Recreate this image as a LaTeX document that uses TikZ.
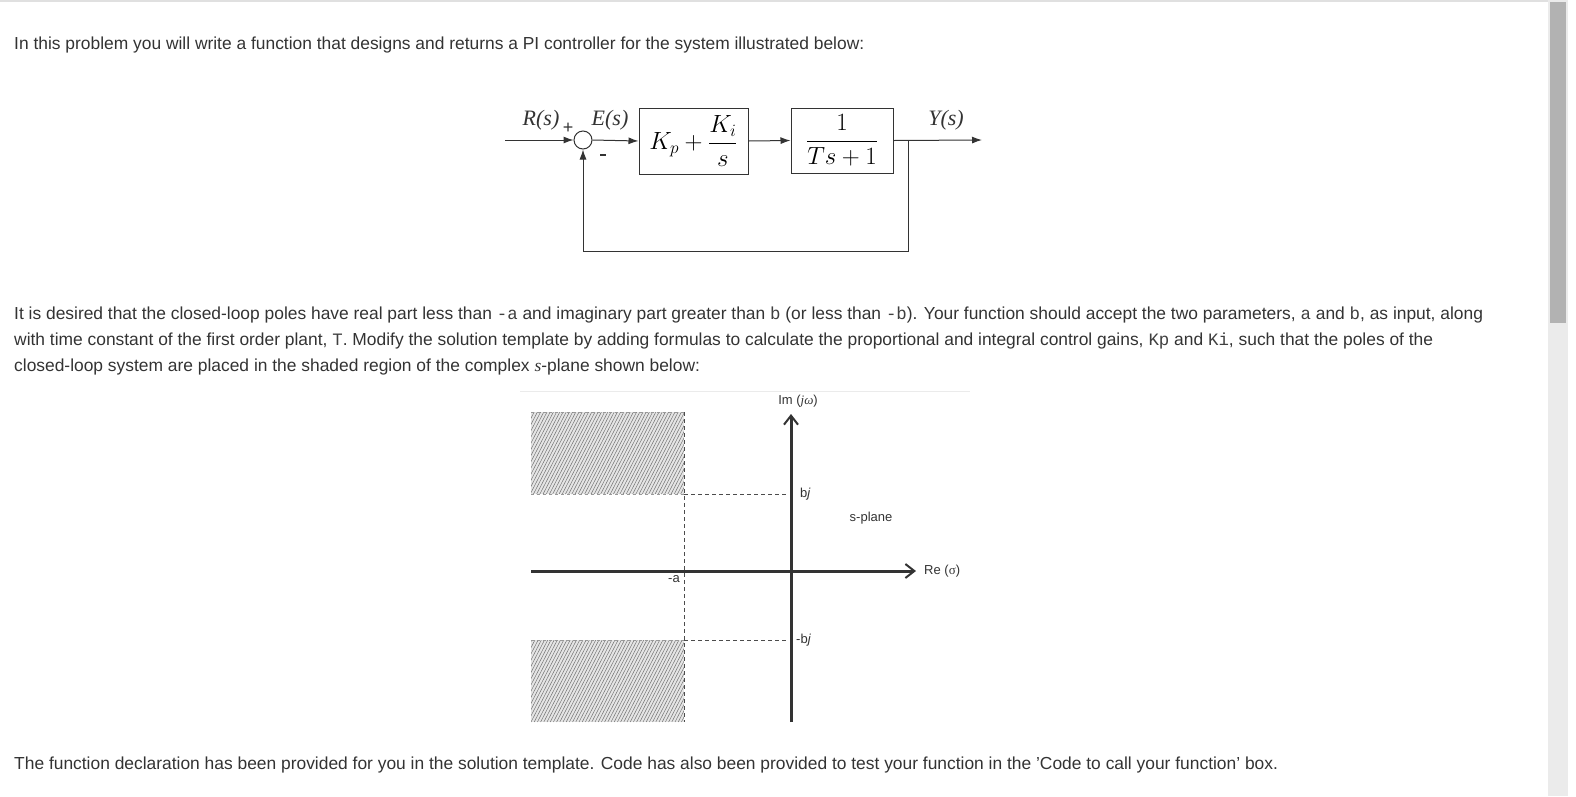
\documentclass[tikz,border=0pt]{standalone}
\usepackage{amsmath}
\usepackage{fontspec}
\setmainfont{Liberation Sans}
\newfontfamily\serifr{Liberation Serif}
\setmonofont{Liberation Mono}
\usetikzlibrary{arrows.meta}
\newcommand{\cd}[1]{{\color{black!75}\texttt{#1}}}
\begin{document}
\begin{tikzpicture}[x=1pt,y=-1pt,
  txt/.style={anchor=west,inner sep=0pt,font=\fontsize{17.4}{20}\selectfont,text=black!80},
  blk/.style={draw=black!80,line width=1pt,minimum width=109pt,minimum height=66pt,inner sep=0pt},
  sig/.style={draw=black!80,line width=1pt,-{Latex[length=10pt,width=7pt]}},
  lab/.style={font=\serifr\itshape\fontsize{22}{24}\selectfont,text=black!80,inner sep=0pt},
  sm/.style={font=\fontsize{13}{15}\selectfont,text=black!80,inner sep=0pt},
  dsh/.style={draw=black!70,line width=0.6pt,dash pattern=on 4pt off 3pt},
  hline/.style={draw=black!55,line width=0.5pt}]
\useasboundingbox (0,0) rectangle (1576,796);
\fill[black!12] (0,0) rectangle (1548,2);
\fill[black!8] (1548,0) rectangle (1568,796);
\fill[black!30] (1550,2) rectangle (1566,323);
% texts
\node[txt] (t1) at (14,45) {In this problem you will write a function that designs and returns a PI controller for the system illustrated below:};
\node[txt] (t2) at (14,315) {It is desired that the closed-loop poles have real part less than \cd{-a} and imaginary part greater than \cd{b} (or less than \cd{-b}). Your function should accept the two parameters, \cd{a} and \cd{b}, as input, along};
\node[txt] (t3) at (14,341) {with time constant of the first order plant, \cd{T}. Modify the solution template by adding formulas to calculate the proportional and integral control gains, \cd{Kp} and \cd{Ki}, such that the poles of the};
\node[txt] (t4) at (14,367) {closed-loop system are placed in the shaded region of the complex {\serifr\itshape s}-plane shown below:};
\node[txt] (t5) at (14,765) {The function declaration has been provided for you in the solution template. Code has also been provided to test your function in the 'Code to call your function' box.};
% block diagram
\coordinate (in) at (505,140);
\node[circle,draw=black!80,line width=1pt,minimum size=18pt,inner sep=0pt] (sum) at (583,140) {};
\node[blk] (c) at (693.5,141) {\serifr\fontsize{25}{26}\selectfont $K_p+\dfrac{K_i}{s}$};
\node[blk,minimum width=102pt,minimum height=65pt] (p) at (842,140.5) {\serifr\fontsize{25}{26}\selectfont $\dfrac{1}{Ts+1}$};
\coordinate (out) at (982,140);
\coordinate (br) at (908,140);
\coordinate (fb) at (908,251);
\coordinate (fb2) at (583,251);
\draw[sig] (in) -- (sum.west);
\draw[sig] (sum.east) -- (c.west);
\draw[sig] (c.east) -- (p.west);
\draw[sig] (p.east) -- (out);
\draw[sig] (br) -- (fb) -- (fb2) -- (sum.south);
\node[lab] (R) at (541,120) {R(s)};
\node[lab] (E) at (610,120) {E(s)};
\node[lab] (Y) at (946,120) {Y(s)};
\node[sm,font=\fontsize{18}{18}\selectfont] (plus) at (568,128) {+};
\node[fill=black!80,minimum width=6pt,minimum height=2.5pt,inner sep=0pt] (minus) at (603,155) {};
% s-plane
\draw[black!8,line width=0.8pt] (520,391) -- (970,391);
\fill[black!10] (531,412) rectangle (684,494);
\fill[black!10] (531,640) rectangle (684,722);
\begin{scope}
\clip (531,412) rectangle (684,494) (531,640) rectangle (684,722);
\foreach \k in {0,3.2,...,480} {\draw[hline] (531+\k-160,722) -- (531+\k,412);}
\end{scope}
\draw[black!40,dashed,line width=0.5pt] (531,412) -- (684,412) (531,494) -- (684,494) (531,640) -- (684,640);
\draw[dsh] (684,412) -- (684,722);
\draw[dsh] (684,494) -- (787,494);
\draw[dsh] (684,640) -- (787,640);
\coordinate (xl) at (531,571);
\coordinate (xr) at (916,571);
\coordinate (yb) at (791,722);
\coordinate (yt) at (791,414);
\draw[black!80,line width=3pt,-{Straight Barb[length=9pt,width=14pt,line width=2pt]}] (xl) -- (xr);
\draw[black!80,line width=3pt,-{Straight Barb[length=9pt,width=14pt,line width=2pt]}] (yb) -- (yt);
\node[sm] (im) at (798,401) {Im ({\serifr\itshape j\/}{\serifr\itshape ω})};
\node[sm,anchor=west] (bj) at (800,494) {b{\itshape j}};
\node[sm,anchor=west] (mbj) at (796,640) {-b{\itshape j}};
\node[sm] (sp) at (871,518) {s-plane};
\node[sm,anchor=west] (re) at (924,571) {Re ({\serifr σ})};
\node[sm] (ma) at (674,579) {-a};
\end{tikzpicture}
\end{document}
